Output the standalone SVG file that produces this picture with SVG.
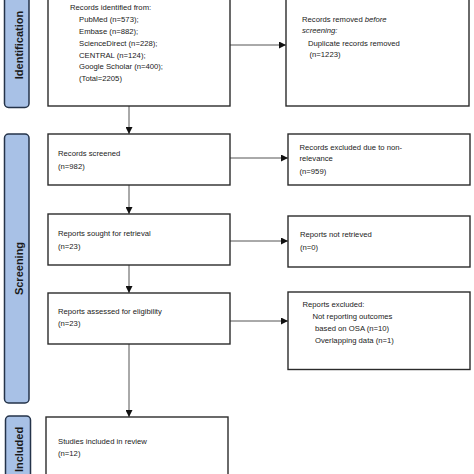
<svg xmlns="http://www.w3.org/2000/svg" width="474" height="474" viewBox="0 0 474 474">
<style>
  .box { fill: #ffffff; stroke: #2b2b2b; stroke-width: 1.4; }
  .bar { fill: #a8c1e6; stroke: #243349; stroke-width: 1.5; }
  .t { font-family: "Liberation Sans", Arial, sans-serif; font-size: 7.7px; fill: #222222; }
  .lbl { font-family: "Liberation Sans", Arial, sans-serif; font-size: 11px; font-weight: bold; fill: #1a1a1a; }
  .c { stroke: #555555; stroke-width: 1; fill: none; }
</style>
<defs>
  <marker id="ah" viewBox="0 0 10 10" refX="10" refY="5" markerWidth="7" markerHeight="7" markerUnits="userSpaceOnUse" orient="auto">
    <path d="M0,0 L10,5 L0,10 Z" fill="#111111"/>
  </marker>
</defs>
<rect width="474" height="474" fill="#ffffff"/>

<g id="stage-identification">
  <rect class="bar" x="4.5" y="-10" width="24.5" height="117.5" rx="4"/>
  <text class="lbl" transform="translate(22.5,45) rotate(-90)" text-anchor="middle">Identification</text>
</g>
<g id="stage-screening">
  <rect class="bar" x="4.5" y="134" width="24.5" height="269" rx="4"/>
  <text class="lbl" transform="translate(22.5,268.5) rotate(-90)" text-anchor="middle">Screening</text>
</g>
<g id="stage-included">
  <rect class="bar" x="5.5" y="416" width="25" height="80" rx="4"/>
  <text class="lbl" transform="translate(23,449.5) rotate(-90)" text-anchor="middle" font-size="10.5">Included</text>
</g>

<g id="connectors">
  <line class="c" x1="230" y1="45" x2="286" y2="45" marker-end="url(#ah)"/>
  <line class="c" x1="129" y1="106" x2="129" y2="134" marker-end="url(#ah)"/>
  <line class="c" x1="230" y1="158" x2="288" y2="158" marker-end="url(#ah)"/>
  <line class="c" x1="129" y1="185" x2="129" y2="214" marker-end="url(#ah)"/>
  <line class="c" x1="230" y1="241" x2="288" y2="241" marker-end="url(#ah)"/>
  <line class="c" x1="129" y1="265" x2="129" y2="293" marker-end="url(#ah)"/>
  <line class="c" x1="230" y1="321" x2="288" y2="321" marker-end="url(#ah)"/>
  <line class="c" x1="129" y1="344" x2="129" y2="417" marker-end="url(#ah)"/>
</g>

<g id="records-identified">
  <rect class="box" x="48" y="-5" width="182" height="111"/>
  <text class="t" x="70" y="10">Records identified from:</text>
  <text class="t" x="79" y="22">PubMed (n=573);</text>
  <text class="t" x="79" y="34">Embase (n=882);</text>
  <text class="t" x="79" y="45.5">ScienceDirect (n=228);</text>
  <text class="t" x="79" y="57.5">CENTRAL (n=124);</text>
  <text class="t" x="79" y="69">Google Scholar (n=400);</text>
  <text class="t" x="79" y="81">(Total=2205)</text>
</g>

<g id="records-removed">
  <rect class="box" x="286" y="-5" width="183" height="111"/>
  <text class="t" x="302" y="22">Records removed <tspan font-style="italic">before</tspan></text>
  <text class="t" x="302" y="32.5" font-style="italic">screening:</text>
  <text class="t" x="308" y="46">Duplicate records removed</text>
  <text class="t" x="309.5" y="57">(n=1223)</text>
</g>

<g id="records-screened">
  <rect class="box" x="48" y="134" width="182" height="51"/>
  <text class="t" x="58" y="156">Records screened</text>
  <text class="t" x="58" y="168.5">(n=982)</text>
</g>

<g id="records-excluded">
  <rect class="box" x="288" y="134" width="182" height="51"/>
  <text class="t" x="299.5" y="149.5">Records excluded due to non-</text>
  <text class="t" x="299.5" y="160.5">relevance</text>
  <text class="t" x="299.5" y="173.5">(n=959)</text>
</g>

<g id="reports-sought">
  <rect class="box" x="48" y="214" width="182" height="51"/>
  <text class="t" x="58" y="236">Reports sought for retrieval</text>
  <text class="t" x="58" y="248.5">(n=23)</text>
</g>

<g id="reports-not-retrieved">
  <rect class="box" x="288" y="216" width="182" height="51"/>
  <text class="t" x="300" y="237">Reports not retrieved</text>
  <text class="t" x="300" y="249.5">(n=0)</text>
</g>

<g id="reports-assessed">
  <rect class="box" x="48" y="293" width="182" height="51"/>
  <text class="t" x="58" y="314">Reports assessed for eligibility</text>
  <text class="t" x="58" y="326">(n=23)</text>
</g>

<g id="reports-excluded">
  <rect class="box" x="288" y="292" width="182" height="77.5"/>
  <text class="t" x="302.5" y="307">Reports excluded:</text>
  <text class="t" x="312.5" y="319">Not reporting outcomes</text>
  <text class="t" x="315" y="331">based on OSA (n=10)</text>
  <text class="t" x="315" y="343">Overlapping data (n=1)</text>
</g>

<g id="studies-included">
  <rect class="box" x="46" y="417" width="182" height="80"/>
  <text class="t" x="58" y="444">Studies included in review</text>
  <text class="t" x="58" y="456">(n=12)</text>
</g>
</svg>
